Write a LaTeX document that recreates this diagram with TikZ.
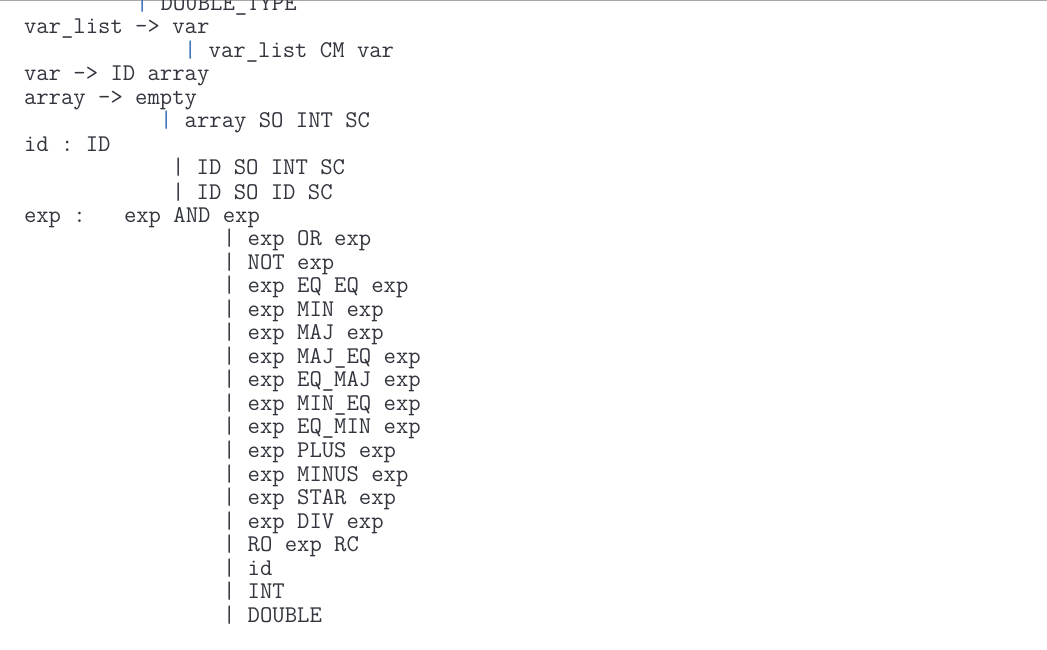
\documentclass[tikz,border=0pt]{standalone}
\usepackage{fontspec}
\definecolor{txt}{HTML}{33363F}
\definecolor{pipeblue}{HTML}{3A6FB5}
\frenchspacing
\begin{document}
\begin{tikzpicture}[x=1pt,y=-1pt,
  ln/.style={anchor=base west,inner sep=0pt,outer sep=0pt,font=\ttfamily\fontsize{24}{26}\selectfont\frenchspacing,text=txt}]
\useasboundingbox (0,0) rectangle (1047,650);
\fill[white] (0,0) rectangle (1047,650);
\draw[gray!70,line width=1.2pt] (0,0.6) -- (1047,0.6);
\newcommand\bp{\textcolor{pipeblue}{|}}
\newcommand\gp{|}
\node[ln] (l0) at (136,11) {\bp{} DOUBLE\_TYPE};
\node[ln] (l1) at (24,34) {var\_list -> var};
\node[ln] (l2) at (184,58) {\bp{} var\_list CM var};
\node[ln] (l3) at (24,81) {var -> ID array};
\node[ln] (l4) at (24,105) {array -> empty};
\node[ln] (l5) at (160,128) {\bp{} array SO INT SC};
\node[ln] (l6) at (24,152) {id : ID};
\node[ln] (l7) at (172,175) {\gp{} ID SO INT SC};
\node[ln] (l8) at (172,199) {\gp{} ID SO ID SC};
\node[ln] (l9) at (24,222) {exp :};
\node[ln] (l9b) at (124,222) {exp AND exp};
\foreach \t [count=\i] in {exp OR exp,NOT exp,exp EQ EQ exp,exp MIN exp,exp MAJ exp,exp MAJ\_EQ exp,exp EQ\_MAJ exp,exp MIN\_EQ exp,exp EQ\_MIN exp,exp PLUS exp,exp MINUS exp,exp STAR exp,exp DIV exp,RO exp RC,id,INT,DOUBLE}
  \node[ln] (e\i) at (223,{222+23.55*\i}) {| \t};
\end{tikzpicture}
\end{document}
